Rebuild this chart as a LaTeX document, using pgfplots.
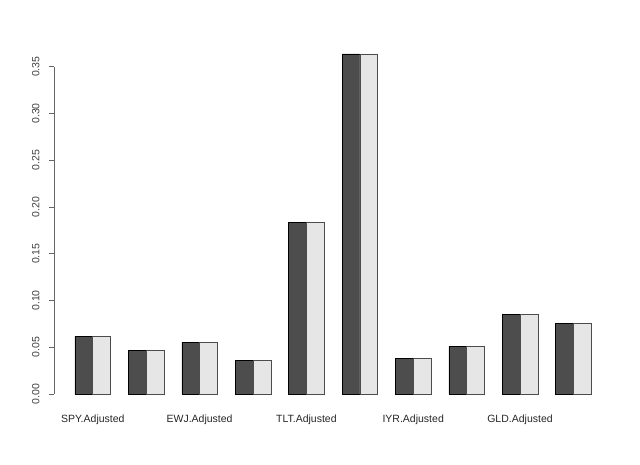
\documentclass[border=0pt]{standalone}
\usepackage{pgfplots}
\pgfplotsset{compat=1.18}
\usepackage{fontspec}
\setmainfont{Liberation Sans}
\definecolor{darkbar}{HTML}{4D4D4D}
\definecolor{lightbar}{HTML}{E6E6E6}
\begin{document}
\begin{tikzpicture}
\useasboundingbox (0,0) rectangle (640bp,465bp);
\begin{axis}[
  at={(54.35bp,57.4bp)}, anchor=south west,
  scale only axis,
  width=557.5bp, height=367.2bp,
  xmin=-0.16, xmax=31.16,
  ymin=-0.01454, ymax=0.37814,
  axis line style={draw=none},
  xtick={2,8,14,20,26},
  xticklabels={SPY.Adjusted,EWJ.Adjusted,TLT.Adjusted,IYR.Adjusted,GLD.Adjusted},
  xtick pos=bottom,
  x tick style={draw=none},
  xticklabel style={anchor=base, yshift=-10bp, font=\fontsize{10.5bp}{12bp}\selectfont, text=black!85},
  ytick={0,0.05,0.10,0.15,0.20,0.25,0.30,0.35},
  ytick pos=left,
  tick align=outside,
  major tick length=5bp,
  y tick style={draw=black!60, line width=0.7bp},
  yticklabel style={/pgf/number format/fixed, /pgf/number format/fixed zerofill, /pgf/number format/precision=2, /pgf/number format/assume math mode=true, xshift=-10bp, rotate=90, anchor=base, font=\fontsize{10.5bp}{12bp}\selectfont, text=black!75},
  scaled y ticks=false,
  ybar, bar width=1, bar shift=0,
  clip=false,
]
\draw[black!60, line width=0.7bp] (axis cs:-0.16,0) -- (axis cs:-0.16,0.35);
\addplot[fill=darkbar, draw=black, line width=0.6bp] coordinates {
(1.5,0.0620) (4.5,0.0467) (7.5,0.0556) (10.5,0.0356) (13.5,0.1839)
(16.5,0.3636) (19.5,0.0381) (22.5,0.0510) (25.5,0.0852) (28.5,0.0752)};
\addplot[fill=lightbar, draw=black!70, line width=0.6bp] coordinates {
(2.5,0.0620) (5.5,0.0467) (8.5,0.0556) (11.5,0.0356) (14.5,0.1839)
(17.5,0.3636) (20.5,0.0381) (23.5,0.0510) (26.5,0.0852) (29.5,0.0752)};
\end{axis}
\end{tikzpicture}
\end{document}
